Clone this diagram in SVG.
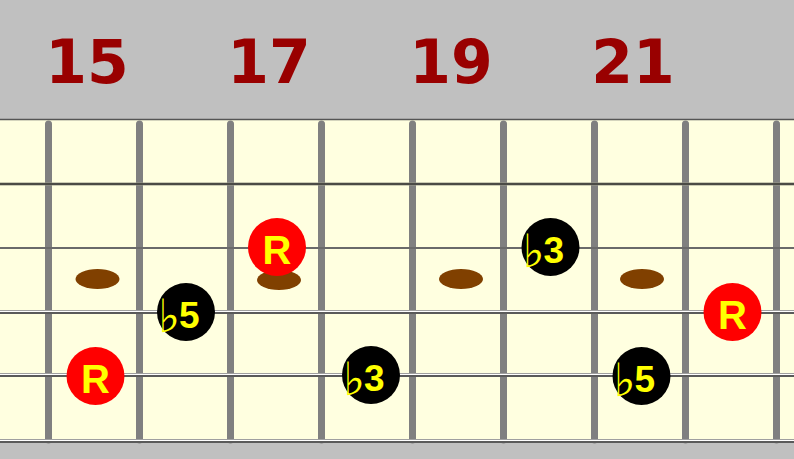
<svg xmlns="http://www.w3.org/2000/svg" width="794" height="459" viewBox="0 0 794 459">
<style>
.fret{stroke:#808080;stroke-width:7;stroke-linecap:round;fill:none}
.lbl{font-family:"DejaVu Sans",Verdana,sans-serif;font-weight:bold;font-size:60px;fill:#990000;text-anchor:middle}
.inlay{fill:#804000}
.root{fill:#ff0000}
.deg{fill:#000000}
.rt{font-family:"Liberation Sans",Arial,sans-serif;font-weight:bold;font-size:40px;fill:#ffff00;text-anchor:middle}
.dt{font-family:"Liberation Sans",Arial,sans-serif;font-weight:bold;font-size:37px;fill:#ffff00;text-anchor:start}
.flat{font-family:"DejaVu Sans",sans-serif;font-weight:normal;font-size:46px;fill:#ffff00;text-anchor:end}
</style>
<g id="background">
<rect x="0" y="0" width="794" height="459" fill="#c0c0c0"/>
<rect x="0" y="120" width="794" height="322" fill="#ffffe0"/>
<line x1="0" y1="119.5" x2="794" y2="119.5" stroke="#555555" stroke-width="1.5"/>
</g>
<g id="labels">
<text class="lbl" x="87" y="83">15</text>
<text class="lbl" x="269" y="83">17</text>
<text class="lbl" x="451" y="83">19</text>
<text class="lbl" x="633" y="83">21</text>
</g>
<g id="frets">
<line class="fret" x1="48.5" y1="124" x2="48.5" y2="440"/>
<line class="fret" x1="139.5" y1="124" x2="139.5" y2="440"/>
<line class="fret" x1="230.5" y1="124" x2="230.5" y2="440"/>
<line class="fret" x1="321.5" y1="124" x2="321.5" y2="440"/>
<line class="fret" x1="412.5" y1="124" x2="412.5" y2="440"/>
<line class="fret" x1="503.5" y1="124" x2="503.5" y2="440"/>
<line class="fret" x1="594.5" y1="124" x2="594.5" y2="440"/>
<line class="fret" x1="685.5" y1="124" x2="685.5" y2="440"/>
<line class="fret" x1="776.5" y1="124" x2="776.5" y2="440"/>
</g>
<g id="strings">
<line x1="0" y1="184" x2="794" y2="184" stroke="#9a9a88" stroke-width="3"/>
<line x1="0" y1="184" x2="794" y2="184" stroke="#303030" stroke-width="1.5"/>
<line x1="0" y1="248" x2="794" y2="248" stroke="#6a6a6a" stroke-width="2"/>
<line x1="0" y1="310.5" x2="794" y2="310.5" stroke="#a0a0a0" stroke-width="1"/>
<line x1="0" y1="311.5" x2="794" y2="311.5" stroke="#ffffff" stroke-width="1"/>
<line x1="0" y1="313" x2="794" y2="313" stroke="#5a5a5a" stroke-width="2"/>
<line x1="0" y1="373.5" x2="794" y2="373.5" stroke="#a0a0a0" stroke-width="1"/>
<line x1="0" y1="374.5" x2="794" y2="374.5" stroke="#ffffff" stroke-width="1"/>
<line x1="0" y1="376" x2="794" y2="376" stroke="#5a5a5a" stroke-width="2"/>
<line x1="0" y1="439.5" x2="794" y2="439.5" stroke="#a0a0a0" stroke-width="1"/>
<line x1="0" y1="440.5" x2="794" y2="440.5" stroke="#ffffff" stroke-width="1"/>
<line x1="0" y1="442" x2="794" y2="442" stroke="#5a5a5a" stroke-width="2"/>
</g>
<g id="inlays">
<ellipse class="inlay" cx="97.5" cy="279" rx="22" ry="10"/>
<ellipse class="inlay" cx="279" cy="280" rx="22" ry="10"/>
<ellipse class="inlay" cx="461" cy="279" rx="22" ry="10"/>
<ellipse class="inlay" cx="642" cy="279" rx="22" ry="10"/>
</g>
<g id="n1"><circle class="root" cx="95.5" cy="376" r="29"/><text class="rt" x="95.5" y="393">R</text></g>
<g id="n2"><circle class="deg" cx="186" cy="312" r="29"/><text class="flat" x="180" y="332">♭</text><text class="dt" x="179" y="328">5</text></g>
<g id="n3"><circle class="root" cx="277" cy="247" r="29"/><text class="rt" x="277" y="264">R</text></g>
<g id="n4"><circle class="deg" cx="371" cy="375" r="29"/><text class="flat" x="365" y="395">♭</text><text class="dt" x="364" y="391">3</text></g>
<g id="n5"><circle class="deg" cx="550.5" cy="247" r="29"/><text class="flat" x="544.5" y="267">♭</text><text class="dt" x="543.5" y="263">3</text></g>
<g id="n6"><circle class="deg" cx="641.5" cy="376" r="29"/><text class="flat" x="635.5" y="396">♭</text><text class="dt" x="634.5" y="392">5</text></g>
<g id="n7"><circle class="root" cx="732.5" cy="312" r="29"/><text class="rt" x="732.5" y="329">R</text></g>
</svg>
